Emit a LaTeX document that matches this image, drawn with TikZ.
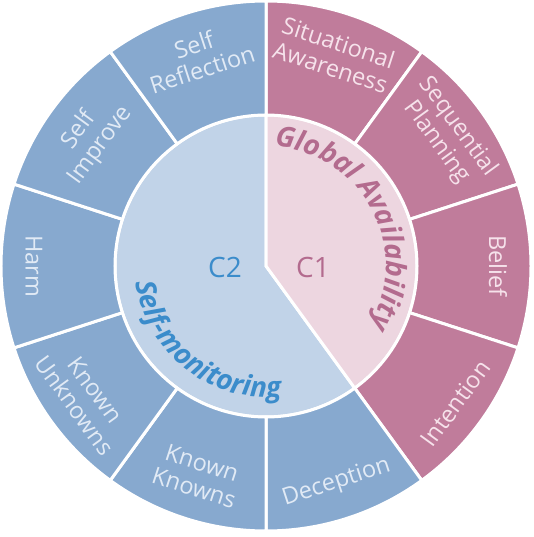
\documentclass[tikz,border=0pt]{standalone}
\usepackage{fontspec}
\setmainfont{Open Sans}
\usepackage{tikz}
\usetikzlibrary{decorations.text}
\definecolor{blueout}{HTML}{87A9CF}
\definecolor{bluein}{HTML}{C1D3E8}
\definecolor{pinkout}{HTML}{C07C9B}
\definecolor{pinkin}{HTML}{EDD6E0}
\definecolor{bluetxt}{HTML}{3B8CCB}
\definecolor{pinktxt}{HTML}{B36B8E}
\definecolor{bluelbl}{HTML}{E1EAF5}
\definecolor{pinklbl}{HTML}{F6E2EB}
\def\rD{151pt}
\def\rO{265pt}

\begin{document}
\begin{tikzpicture}[
  wedge/.style={draw=white,fill=#1,line width=3pt,line join=round},
  lbl/.style={text=#1,font=\fontsize{23.5}{26}\selectfont,align=center,inner sep=0pt},
  cname/.style={text=#1,font=\fontsize{28}{28}\selectfont,inner sep=0pt}]
\useasboundingbox (-266pt,-271pt) rectangle (268pt,266pt);
% inner disc
\path[wedge=bluein] (0,0) -- (90:\rD) arc (90:306:\rD) -- cycle;
\path[wedge=pinkin] (0,0) -- (-54:\rD) arc (-54:90:\rD) -- cycle;
% outer ring
\foreach \a/\c in {72/pinkout,36/pinkout,0/pinkout,-36/pinkout,-72/blueout,
  -108/blueout,-144/blueout,180/blueout,144/blueout,108/blueout}
  \path[wedge=\c] (\a-18:\rD) arc (\a-18:\a+18:\rD) -- (\a+18:\rO)
    arc (\a+18:\a-18:\rO) -- cycle;
\foreach \a/\c/\r/\rot/\nm/\txt in {
  72/pinklbl/222/-18/sa/{Situational\\Awareness},
  36/pinklbl/224/-54/sp/{Sequential\\Planning},
  0/pinklbl/232/-90/be/{Belief},
  -36/pinklbl/234/54/intent/{Intention},
  -72/bluelbl/228/18/de/{Deception},
  -108/bluelbl/220/-18/kk/{Known\\Knowns},
  -144/bluelbl/224/-54/ku/{Known\\Unknowns},
  180/bluelbl/232/-90/ha/{Harm},
  144/bluelbl/218/54/si/{Self\\Improve},
  108/bluelbl/220/18/sr/{Self\\Reflection}}
  \node[lbl=\c,rotate=\rot] (\nm) at (\a:\r pt) {\txt};
% group names
\node[cname=bluetxt] (c2) at (-41pt,-2pt) {C2};
\node[cname=pinktxt] (c1) at (47pt,-2pt) {C1};
\path[decorate,decoration={text along path,text align=center,
  text={|\fontsize{28}{28}\selectfont\bfseries\itshape\color{pinktxt}|Global Availability}}]
  (90:120pt) arc (90:-34:120pt);
\path[decorate,decoration={text along path,text align=center,
  text={|\fontsize{28}{28}\selectfont\bfseries\itshape\color{bluetxt}|Self-monitoring}}]
  (180:131pt) arc (180:284:131pt);
\end{tikzpicture}
\end{document}
